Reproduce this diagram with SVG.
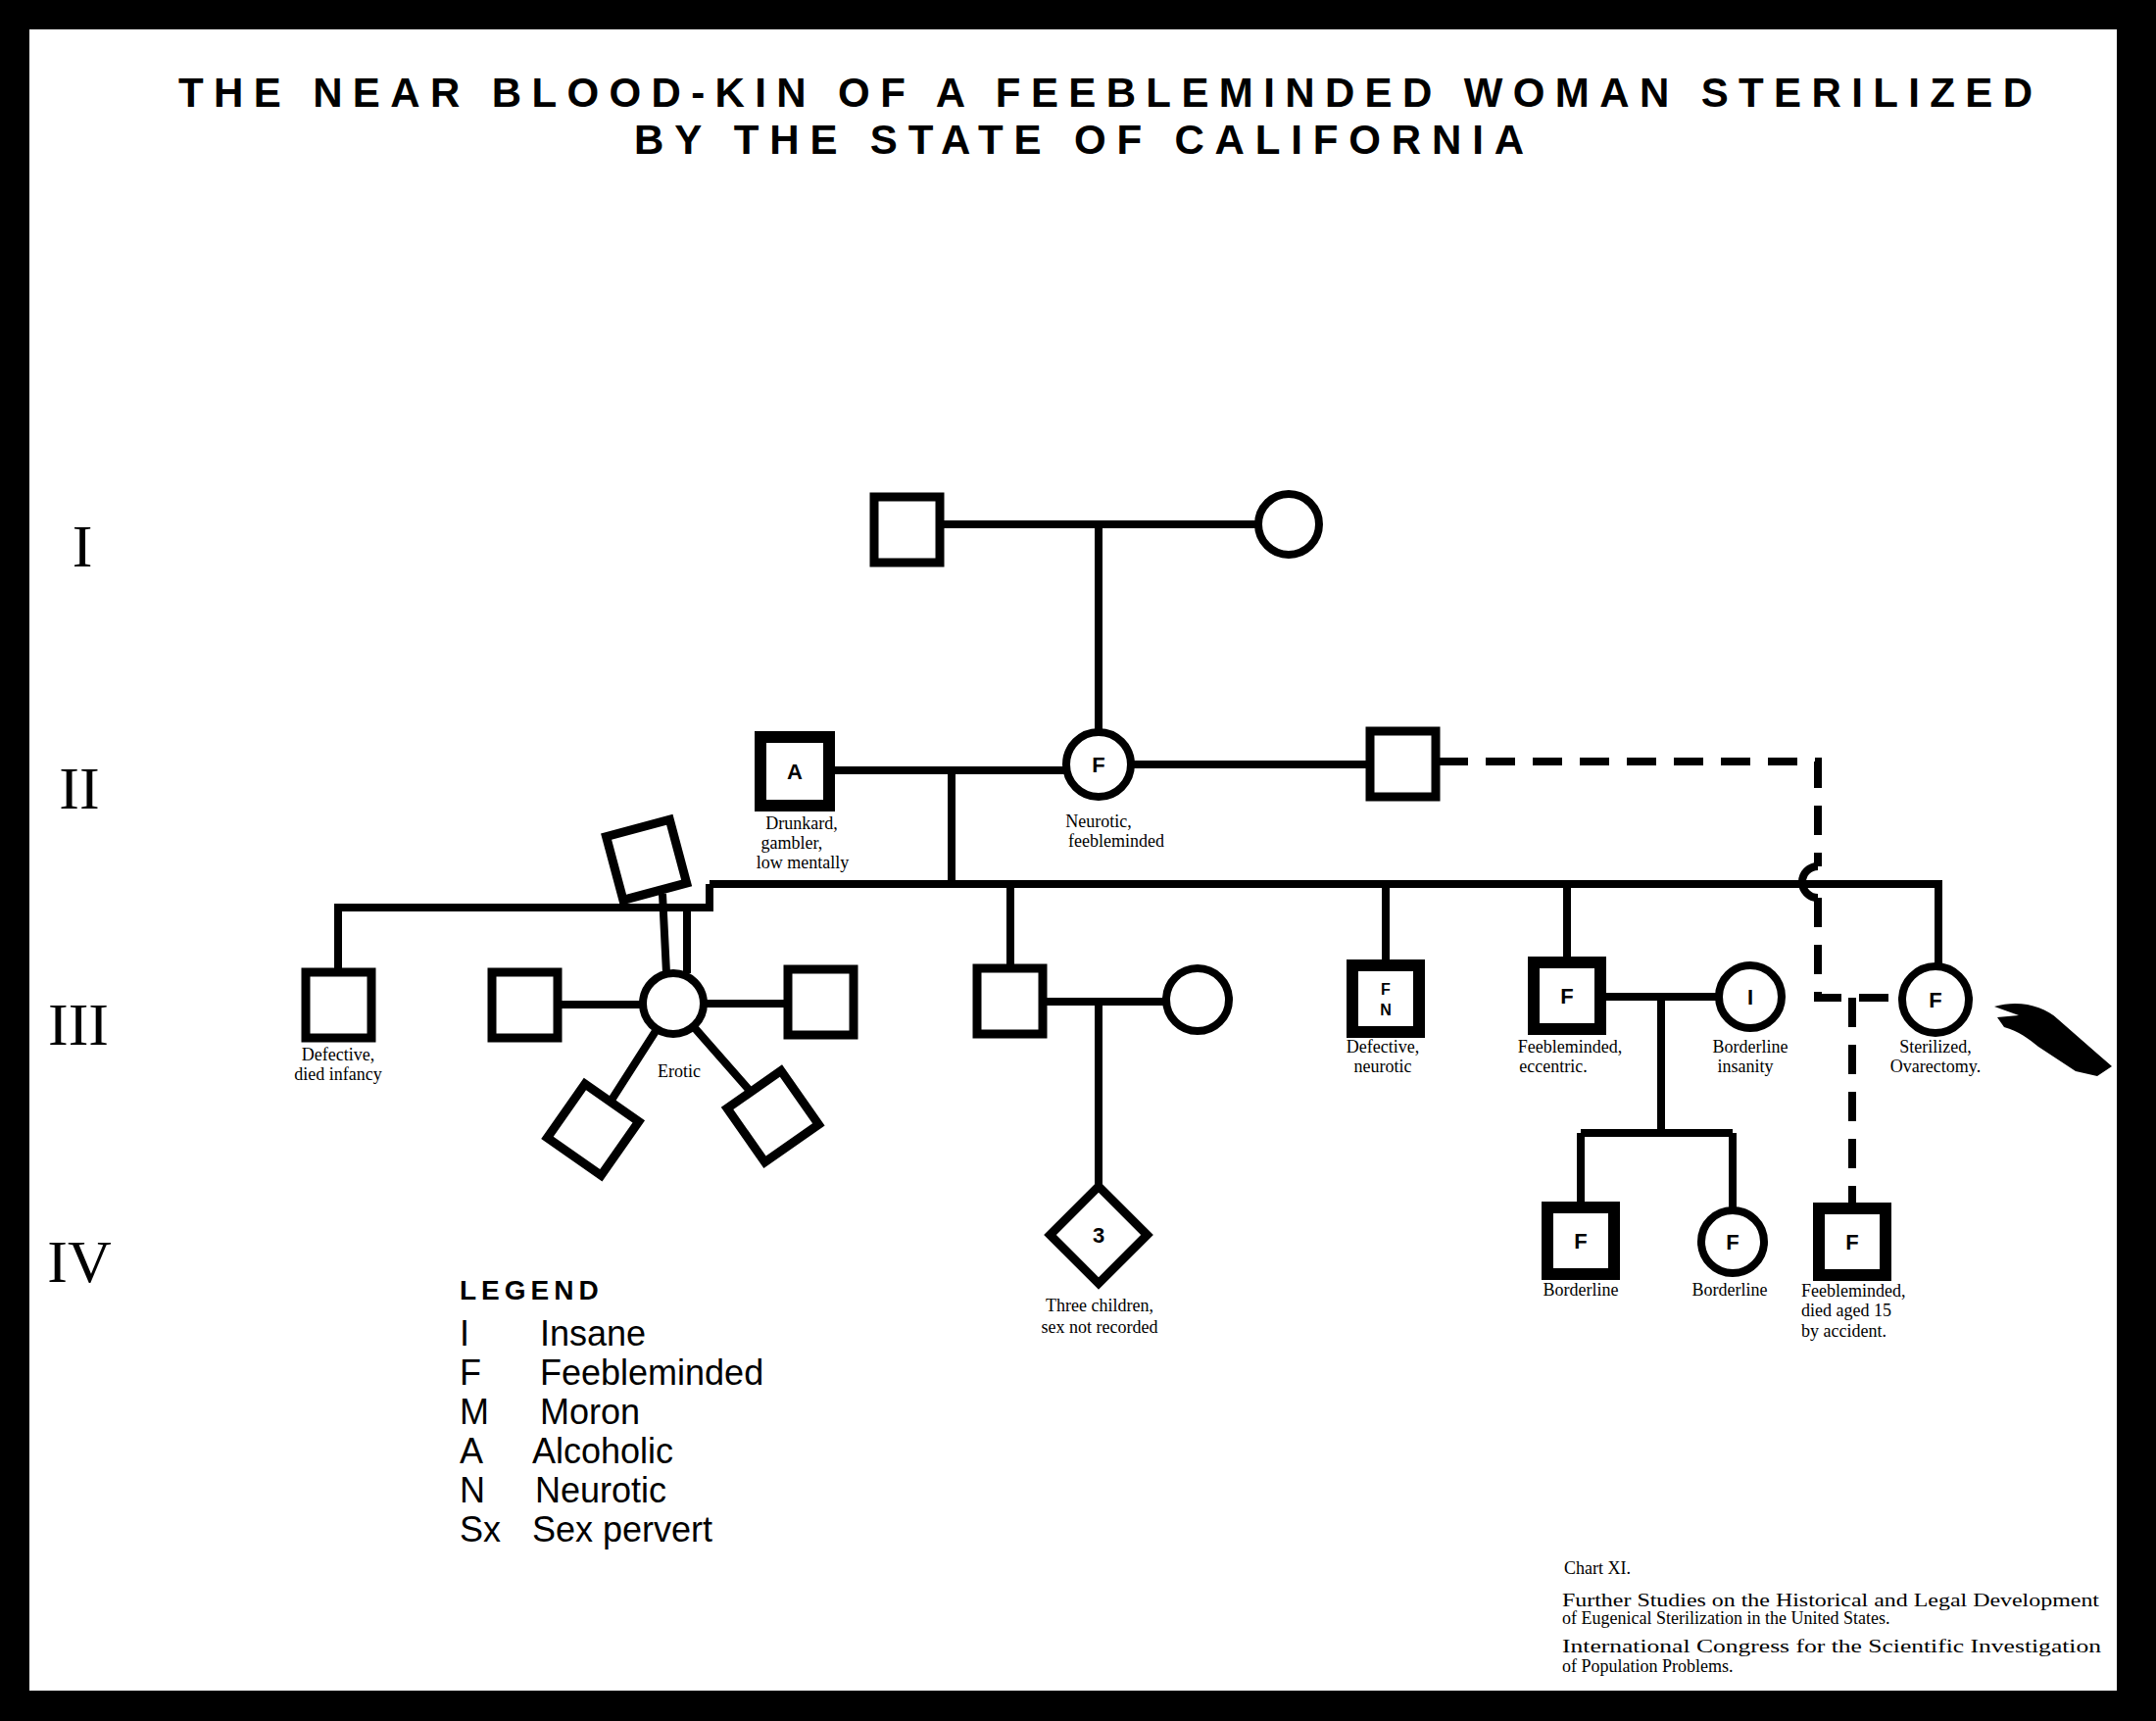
<svg xmlns="http://www.w3.org/2000/svg" width="2200" height="1756" viewBox="0 0 2200 1756">
<style>
.ln{stroke:#000;stroke-width:8;fill:none}
.dl{stroke:#000;stroke-width:8;fill:none;stroke-dasharray:30 18}
.sq{fill:#fff;stroke:#000;stroke-width:9}
.tk{fill:#fff;stroke:#000;stroke-width:12}
.ci{fill:#fff;stroke:#000;stroke-width:8}
.sym{font-family:"Liberation Sans",sans-serif;font-weight:bold;font-size:22px;text-anchor:middle}
.lab{font-family:"Liberation Serif",serif;font-size:18px;text-anchor:middle}
.gen{font-family:"Liberation Serif",serif;font-size:62px;text-anchor:middle}
.ttl{font-family:"Liberation Sans",sans-serif;font-weight:bold;font-size:42px}
.leg{font-family:"Liberation Sans",sans-serif;font-size:36px}
.note{font-family:"Liberation Serif",serif;font-size:18px}
</style>
<rect width="2200" height="1756" fill="#000"/>
<rect x="30" y="30" width="2130" height="1695" fill="#fff"/>
<text class="ttl" x="182" y="109" textLength="1892" lengthAdjust="spacing">THE NEAR BLOOD-KIN OF A FEEBLEMINDED WOMAN  STERILIZED</text>
<text class="ttl" x="647" y="157" textLength="908" lengthAdjust="spacing">BY THE STATE OF CALIFORNIA</text>
<g id="gens">
<text class="gen" x="84" y="578">I</text>
<text class="gen" x="81" y="825">II</text>
<text class="gen" x="80" y="1066">III</text>
<text class="gen" x="81" y="1308">IV</text>
</g>
<g id="connectors">
<path class="ln" d="M959,535H1284M1121,535V746"/>
<path class="ln" d="M846,786H1087M1155,780H1398M971,786V905"/>
<path class="ln" d="M724,902H1978V986M724,902V926H345V992"/>
<path class="dl" d="M1468,777H1855V884"/>
<path class="ln" d="M1855,884A16,16 0 0 0 1855,916"/>
<path class="dl" d="M1855,916V1018H1941M1890,1018V1232"/>
<path class="ln" d="M570,1025H656M718,1024H804M680,993L676,912M701,993V926"/>
<path class="ln" d="M687,1024L605,1152M687,1024L788,1139"/>
<path class="ln" d="M1031,902V988M1065,1022H1191M1121,1022V1211"/>
<path class="ln" d="M1414,902V985M1599,902V982M1633,1017H1754M1695,1017V1156M1613,1156H1768M1613,1156V1232M1768,1156V1235"/>
</g>
<g id="n-I-m"><rect class="sq" x="892" y="507" width="67" height="67"/></g>
<g id="n-I-f"><circle class="ci" cx="1315" cy="535" r="31"/></g>
<g id="n-II-A"><rect class="tk" x="776" y="752" width="70" height="70"/><text class="sym" x="811" y="795">A</text>
<text class="lab" x="818" y="846">Drunkard,</text><text class="lab" x="808" y="866">gambler,</text><text class="lab" x="819" y="886">low mentally</text></g>
<g id="n-II-F"><circle class="ci" cx="1121" cy="780" r="33"/><text class="sym" x="1121" y="788">F</text>
<text class="lab" x="1121" y="844">Neurotic,</text><text class="lab" x="1139" y="864">feebleminded</text></g>
<g id="n-II-m2"><rect class="sq" x="1398" y="746" width="67" height="67"/></g>
<g id="n-III-1"><rect class="sq" x="312" y="992" width="67" height="67"/>
<text class="lab" x="345" y="1082">Defective,</text><text class="lab" x="345" y="1102">died infancy</text></g>
<g id="n-III-erotic"><circle class="ci" cx="687" cy="1024" r="31"/><text class="lab" x="693" y="1099">Erotic</text></g>
<g id="n-III-e1"><rect class="sq" x="502" y="992" width="67" height="67"/></g>
<g id="n-III-e2"><rect class="sq" x="804" y="989" width="67" height="67"/></g>
<g id="n-III-e3"><rect class="sq" x="626" y="844" width="67" height="67" transform="rotate(-15 659 877)"/></g>
<g id="n-III-e4"><rect class="sq" x="572" y="1119" width="67" height="67" transform="rotate(35 605 1152)"/></g>
<g id="n-III-e5"><rect class="sq" x="755" y="1106" width="67" height="67" transform="rotate(-35 788 1139)"/></g>
<g id="n-III-m"><rect class="sq" x="997" y="988" width="67" height="67"/></g>
<g id="n-III-w"><circle class="ci" cx="1222" cy="1020" r="32"/></g>
<g id="n-IV-3"><rect class="sq" x="1086" y="1225" width="70" height="70" transform="rotate(45 1121 1260)"/><text class="sym" x="1121" y="1268">3</text>
<text class="lab" x="1122" y="1338">Three children,</text><text class="lab" x="1122" y="1360">sex not recorded</text></g>
<g id="n-III-FN"><rect class="tk" x="1380" y="985" width="68" height="68"/>
<text class="sym" x="1414" y="1015" style="font-size:16px">F</text><text class="sym" x="1414" y="1036" style="font-size:16px">N</text>
<text class="lab" x="1411" y="1074">Defective,</text><text class="lab" x="1411" y="1094">neurotic</text></g>
<g id="n-III-F"><rect class="tk" x="1565" y="982" width="68" height="68"/><text class="sym" x="1599" y="1024">F</text>
<text class="lab" x="1602" y="1074">Feebleminded,</text><text class="lab" x="1585" y="1094">eccentric.</text></g>
<g id="n-III-I"><circle class="ci" cx="1786" cy="1017" r="32"/><text class="sym" x="1786" y="1025">I</text>
<text class="lab" x="1786" y="1074">Borderline</text><text class="lab" x="1781" y="1094">insanity</text></g>
<g id="n-III-ster"><circle class="ci" cx="1975" cy="1020" r="34"/><text class="sym" x="1975" y="1028">F</text>
<text class="lab" x="1975" y="1074">Sterilized,</text><text class="lab" x="1975" y="1094">Ovarectomy.</text>
<path d="M2035,1027C2060,1020 2085,1026 2100,1040L2140,1075L2155,1088L2140,1098L2118,1093L2080,1068C2070,1060 2060,1052 2045,1048L2038,1038L2060,1036Z" fill="#000"/></g>
<g id="n-IV-1"><rect class="tk" x="1579" y="1232" width="68" height="68"/><text class="sym" x="1613" y="1274">F</text>
<text class="lab" x="1613" y="1322">Borderline</text></g>
<g id="n-IV-2"><circle class="ci" cx="1768" cy="1267" r="32"/><text class="sym" x="1768" y="1275">F</text>
<text class="lab" x="1765" y="1322">Borderline</text></g>
<g id="n-IV-3b"><rect class="tk" x="1856" y="1233" width="68" height="68"/><text class="sym" x="1890" y="1275">F</text>
<text class="lab" x="1838" y="1323" style="text-anchor:start">Feebleminded,</text><text class="lab" x="1838" y="1343" style="text-anchor:start">died aged 15</text><text class="lab" x="1838" y="1364" style="text-anchor:start">by accident.</text></g>
<g id="legend">
<text class="leg" x="469" y="1326" style="font-size:28px;font-weight:bold;letter-spacing:5px">LEGEND</text>
<text class="leg" x="469" y="1373">I</text><text class="leg" x="551" y="1373">Insane</text>
<text class="leg" x="469" y="1413">F</text><text class="leg" x="551" y="1413">Feebleminded</text>
<text class="leg" x="469" y="1453">M</text><text class="leg" x="551" y="1453">Moron</text>
<text class="leg" x="469" y="1493">A</text><text class="leg" x="543" y="1493">Alcoholic</text>
<text class="leg" x="469" y="1533">N</text><text class="leg" x="546" y="1533">Neurotic</text>
<text class="leg" x="469" y="1573">Sx</text><text class="leg" x="543" y="1573">Sex pervert</text>
</g>
<g id="notes">
<text class="note" x="1596" y="1606">Chart XI.</text>
<text class="note" x="1594" y="1639" textLength="548" lengthAdjust="spacingAndGlyphs">Further Studies on the Historical and Legal Development</text>
<text class="note" x="1594" y="1657">of Eugenical Sterilization in the United States.</text>
<text class="note" x="1594" y="1686" textLength="550" lengthAdjust="spacingAndGlyphs">International Congress for the Scientific Investigation</text>
<text class="note" x="1594" y="1706">of Population Problems.</text>
</g>
</svg>
